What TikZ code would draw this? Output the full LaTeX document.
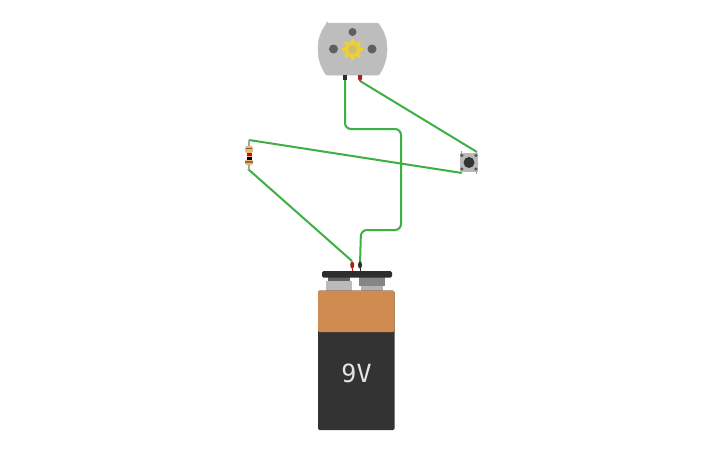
\documentclass[tikz,border=0pt]{standalone}
\usepackage{fontspec}
\setmainfont{DejaVu Sans}
\newfontfamily\labelfont{DejaVu Sans Mono}
\definecolor{wiregreen}{HTML}{3DB043}
\definecolor{mgrey}{HTML}{BDBDBD}
\definecolor{mdark}{HTML}{5F5F5F}
\definecolor{gold}{HTML}{EDCF3A}
\definecolor{khaki}{HTML}{CFBE6A}
\definecolor{copper}{HTML}{D08C50}
\definecolor{batdark}{HTML}{333333}
\definecolor{capdark}{HTML}{2E2E2E}
\definecolor{termred}{HTML}{B01E1E}
\definecolor{rbody}{HTML}{E2BC7C}
\tikzset{
  wire/.style={draw=wiregreen,line width=2pt,rounded corners=6pt},
  hole/.style={circle,fill=mdark,inner sep=0pt,minimum size=#1},
  label9/.style={text=white!90!black,font=\labelfont\fontsize{25}{28}\selectfont,inner sep=0pt}
}
\begin{document}
\begin{tikzpicture}[x=1pt,y=-1pt]
\useasboundingbox (0,0) rectangle (725,453);
\fill[white] (0,0) rectangle (725,453);
% anchor points
\coordinate (mneg) at (345,78);
\coordinate (mpos) at (360,81);
\coordinate (rtop) at (249,140);
\coordinate (rbot) at (248,169);
\coordinate (bt) at (477,152);
\coordinate (bb) at (462,173);
\coordinate (bpos) at (352,261);
\coordinate (bneg) at (360,264);
% motor
\fill[mgrey,draw=mgrey!90!white,line width=0.5pt,rounded corners=1pt] (327,23) -- (378,23)
  .. controls (384,31) and (387,39) .. (387,49)
  .. controls (387,59) and (384,67) .. (379,75) -- (326,75)
  .. controls (321,67) and (318,59) .. (318,49)
  .. controls (318,39) and (321,31) .. (327,23) -- cycle;
\node[hole=8pt] (h1) at (352.5,32) {};
\node[hole=9pt] (h2) at (333.5,49) {};
\node[hole=9pt] (h3) at (372,49) {};
\begin{scope}[shift={(352.5,49.5)}]
\foreach \a in {0,45,...,315}
  \fill[gold] (\a-20:7) -- (\a-7:10.8) -- (\a+7:10.8) -- (\a+20:7) -- cycle;
\end{scope}
\node[circle,fill=gold,inner sep=0pt,minimum size=15pt] (gear) at (352.5,49.5) {};
\node[circle,fill=khaki,inner sep=0pt,minimum size=9pt] (hub) at (352.5,49.5) {};
% wires
\draw[wire] (mneg) -- (345,129) -- (401,129) -- (401,230) -- (361,230) -- (bneg);
\draw[wire,rounded corners=0pt] (mpos) -- (bt);
\draw[wire,rounded corners=0pt] (rtop) -- (bb);
\draw[wire,rounded corners=0pt] (rbot) -- (bpos);
% motor terminals
\fill[capdark] (343,75) rectangle (347,80);
\fill[termred] (358,75) rectangle (362,79) -- (360.5,81) -- (359.5,81) -- (358,79) -- cycle;
% resistor
\fill[gray!70] (248.2,140) rectangle (250,170);
\fill[rbody,rounded corners=2pt] (245,146) rectangle (253,153);
\fill[rbody] (246.5,150) rectangle (252,162);
\fill[rbody,rounded corners=2pt] (245,159.5) rectangle (253,165);
\fill[red!90!black] (246.5,153) rectangle (252,155.5);
\fill[black] (246.5,157) rectangle (252,159.5);
\fill[brown!80!black] (245,161.3) rectangle (253,162.6);
\fill[brown!70!black] (246,148) rectangle (252,148.8);
% push button
\fill[gray!80] (460.7,150.5) rectangle (462.2,154);
\fill[gray!80] (475.7,150.5) rectangle (477.2,154);
\fill[gray!80] (460.7,170) rectangle (462.2,174);
\fill[gray!80] (475.7,170) rectangle (477.2,174);
\fill[gray!55] (460,153) rectangle (478,171.5);
\node[circle,fill=batdark,inner sep=0pt,minimum size=11pt] (knob) at (469,162.5) {};
\foreach \p/\n in {(461.8,155.5)/c1,(475.8,155.5)/c2,(461.8,169)/c3,(475.8,169)/c4}
  \node[circle,fill=black!65,inner sep=0pt,minimum size=3.5pt] (\n) at \p {};
% battery terminals
\fill[black!62] (328,277) rectangle (350,281);
\fill[black!27] (325.5,281) rectangle (351.5,291);
\fill[black!30] (361,286) rectangle (382.5,291);
\fill[black!48] (358.5,277) rectangle (385,286);
\fill[capdark,rounded corners=1.5pt] (322,271) rectangle (392,277.5);
% battery body
\fill[batdark,rounded corners=1.5pt] (318,290.5) rectangle (394.5,430);
\fill[copper,rounded corners=1.5pt] (318,290.5) -- (394.5,290.5) -- (394.5,332) -- (318,332) -- cycle;
\node[label9] (vlabel) at (356.5,373.5) {9V};
% clip terminals
\fill[termred] (352.2,265) ellipse (2pt and 3.6pt);
\fill[termred] (351.7,263) rectangle (352.9,271);
\fill[capdark] (360,265) ellipse (2pt and 3.6pt);
\fill[capdark] (359.5,266) rectangle (360.5,271);
\end{tikzpicture}
\end{document}
